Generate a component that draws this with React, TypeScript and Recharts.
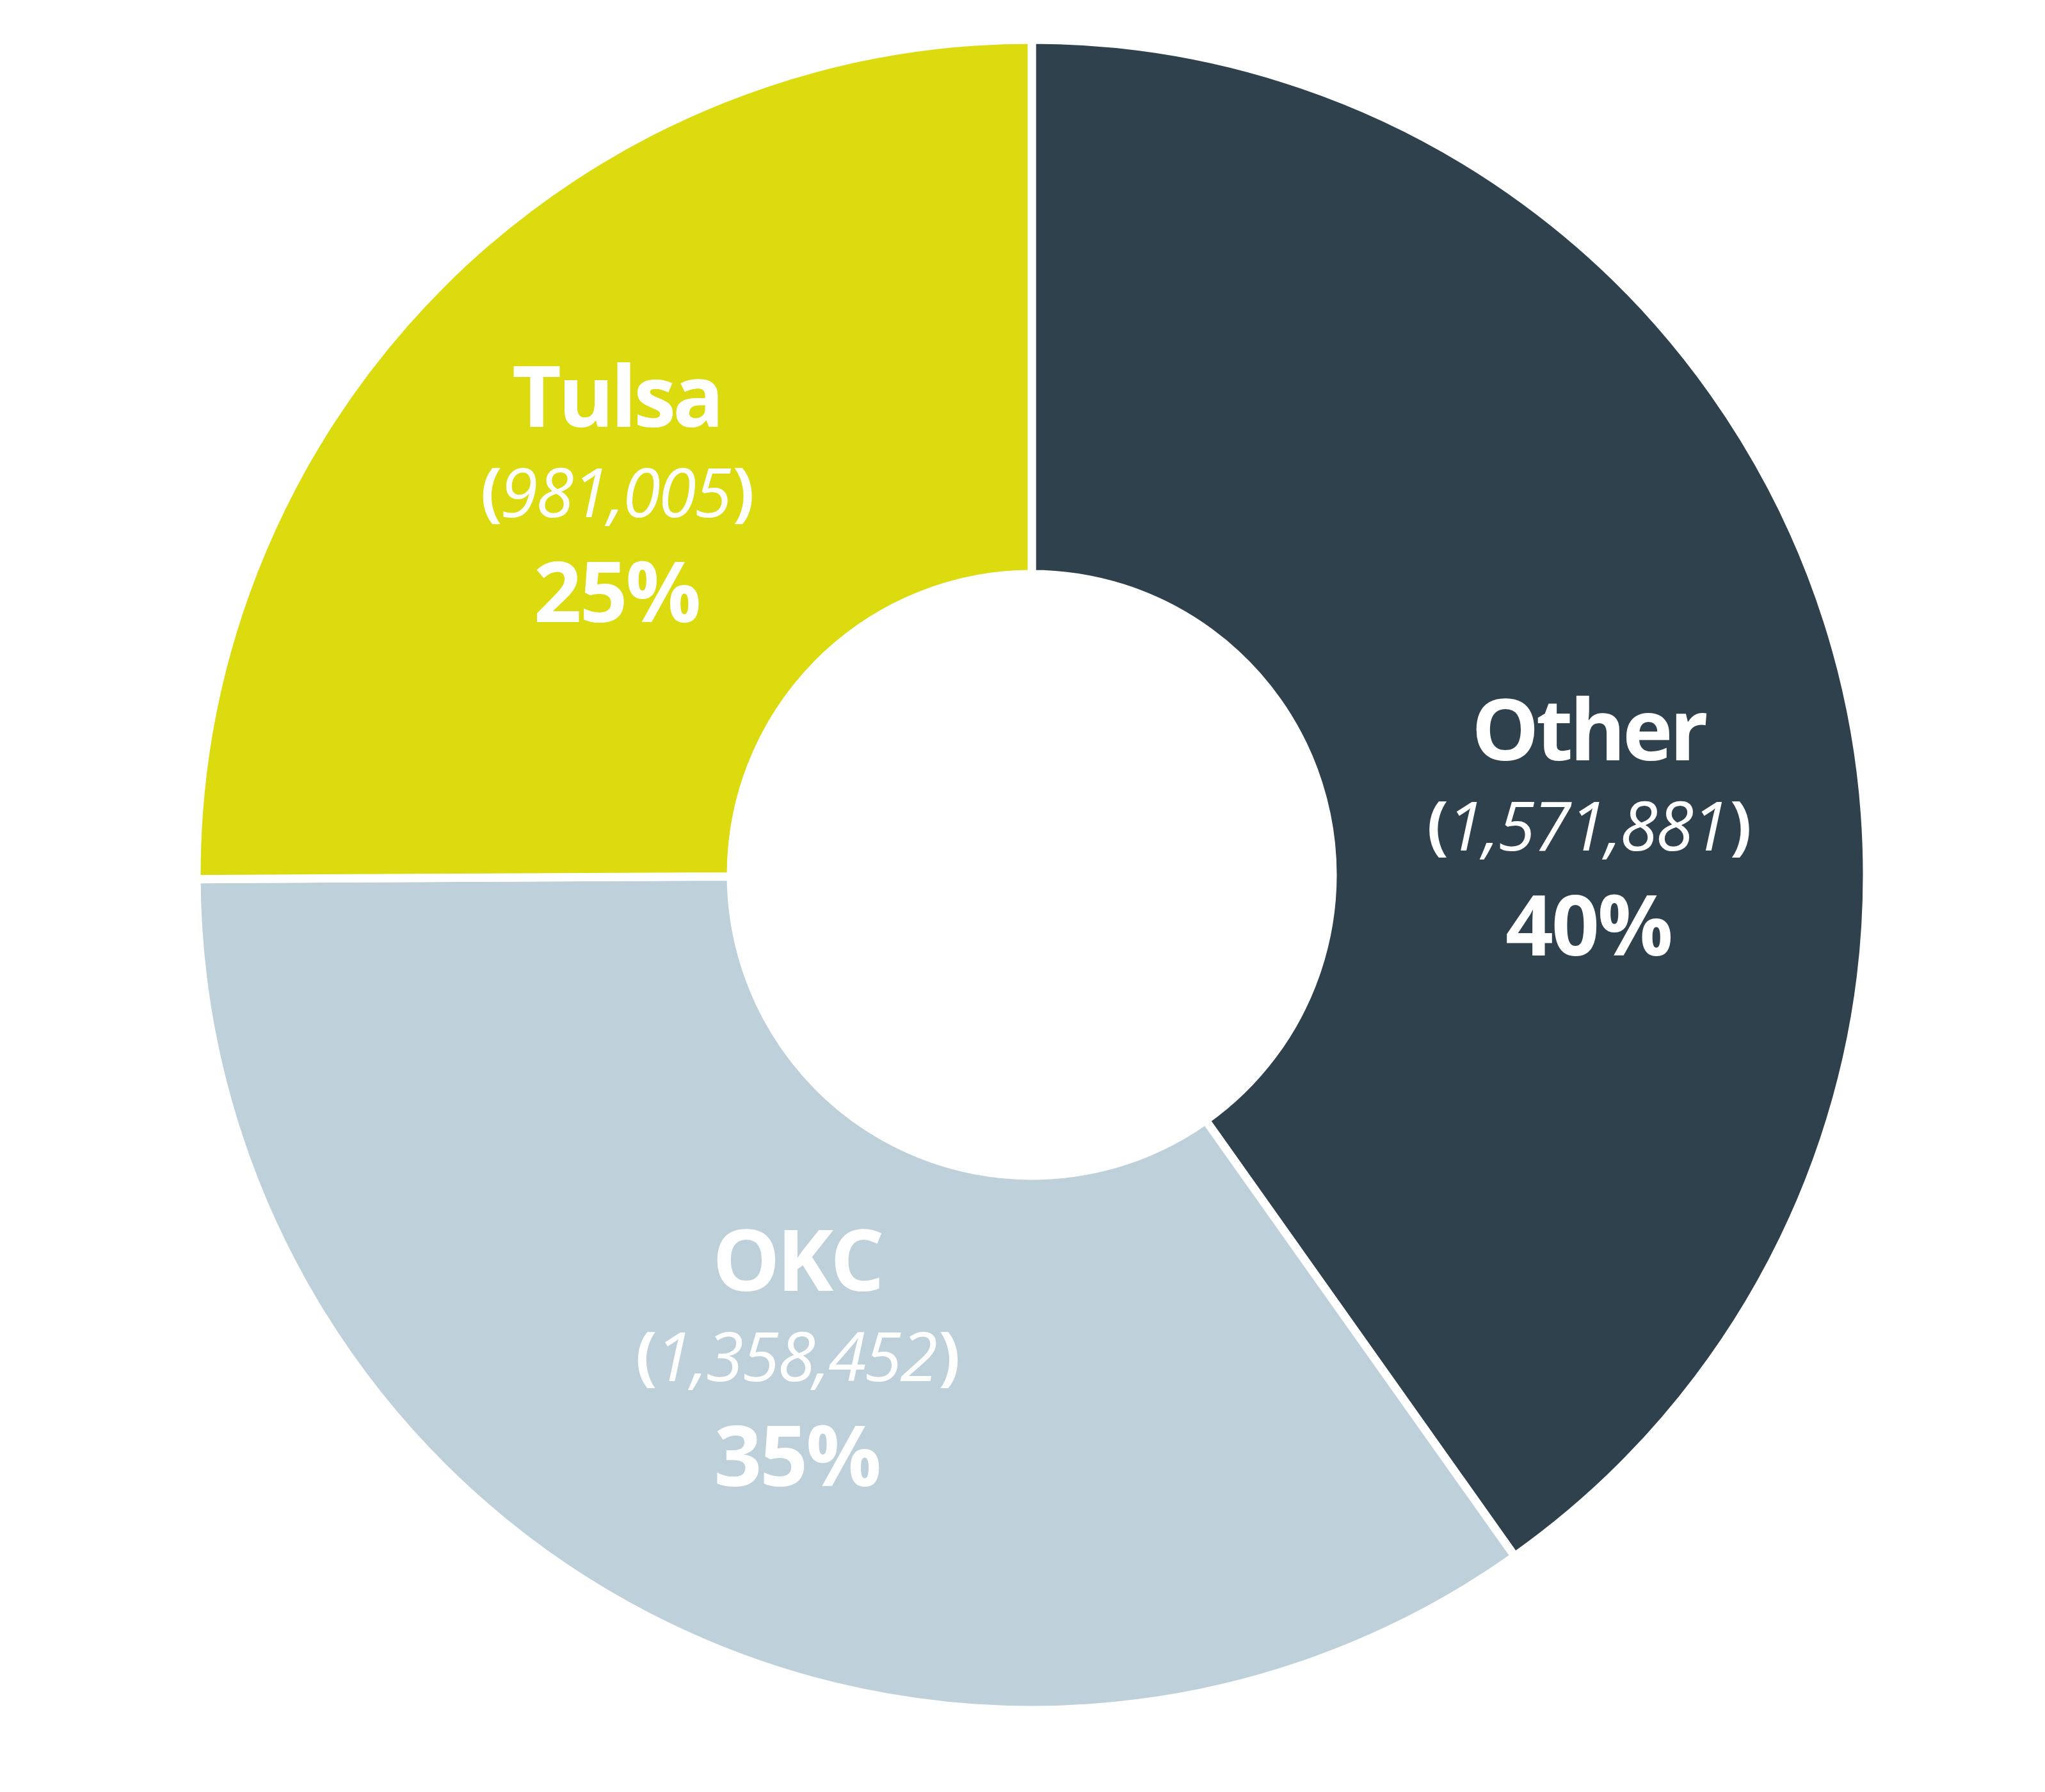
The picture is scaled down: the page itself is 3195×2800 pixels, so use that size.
import React from "react";
import { PieChart, Pie, Cell } from "recharts";

// regions, clockwise from 12 o'clock
const regions = ["Other", "OKC", "Tulsa"];
const population = [1571881, 1358452, 981005];
const sliceColors = ["#2E414D", "#BED0DA", "#DCDB10"];

const data = regions.map((name, i) => ({ name, value: population[i] }));

// hand-placed label nudges (px) from the slice midpoint
const labelNudge: Record<string, [number, number]> = {
    Other: [31, 195],
    OKC: [35, -26],
    Tulsa: [-25, 28],
};

const FONT = "'Open Sans', 'Noto Sans', sans-serif";
const RAD = Math.PI / 180;

function SliceLabel(props: any) {
    const { cx, cy, midAngle, name, value, percent } = props;
    const r = 880;
    const [dx, dy] = labelNudge[name] || [0, 0];
    const x = cx + r * Math.cos(-midAngle * RAD) + dx;
    const y = cy + r * Math.sin(-midAngle * RAD) + dy;

    // one text block, three lines: name / (count) / share
    return (
        <text textAnchor="middle" fill="#fff" fontFamily={FONT}>
            <tspan x={x} y={y - 107} fontWeight={700} fontSize={133} letterSpacing={-5}>
                {name}
            </tspan>
            <tspan x={x} y={y + 34} fontSize={107} letterSpacing={-3}>
                <tspan fontWeight={700} fontSize={100} dy={-5}>(</tspan>
                <tspan fontStyle="italic" fontWeight={400} dy={5}>{Number(value).toLocaleString("en-US")}</tspan>
                <tspan fontWeight={700} fontSize={100} dx={4} dy={-5}>)</tspan>
            </tspan>
            <tspan x={x} y={y + 198} fontWeight={700} fontSize={131} letterSpacing={-3}>
                {`${Math.round(percent * 100)}%`}
            </tspan>
        </text>
    );
}

export default function App() {
    return (
        <div style={{ position: "absolute", left: 0, top: 0, width: 3195, height: 2800, background: "#fff" }}>
            <PieChart width={3195} height={2800} margin={{ top: 0, right: 0, bottom: 0, left: 0 }}>
                <Pie
                    data={data}
                    dataKey="value"
                    nameKey="name"
                    cx={1612}
                    cy={1367}
                    innerRadius={470}
                    outerRadius={1305}
                    startAngle={90}
                    endAngle={-270}
                    label={SliceLabel}
                    labelLine={false}
                    isAnimationActive={false}
                >
                    {data.map((d, i) => (
                        <Cell key={d.name} fill={sliceColors[i]} stroke="#fff" strokeWidth={13} />
                    ))}
                </Pie>
            </PieChart>
        </div>
    );
}
